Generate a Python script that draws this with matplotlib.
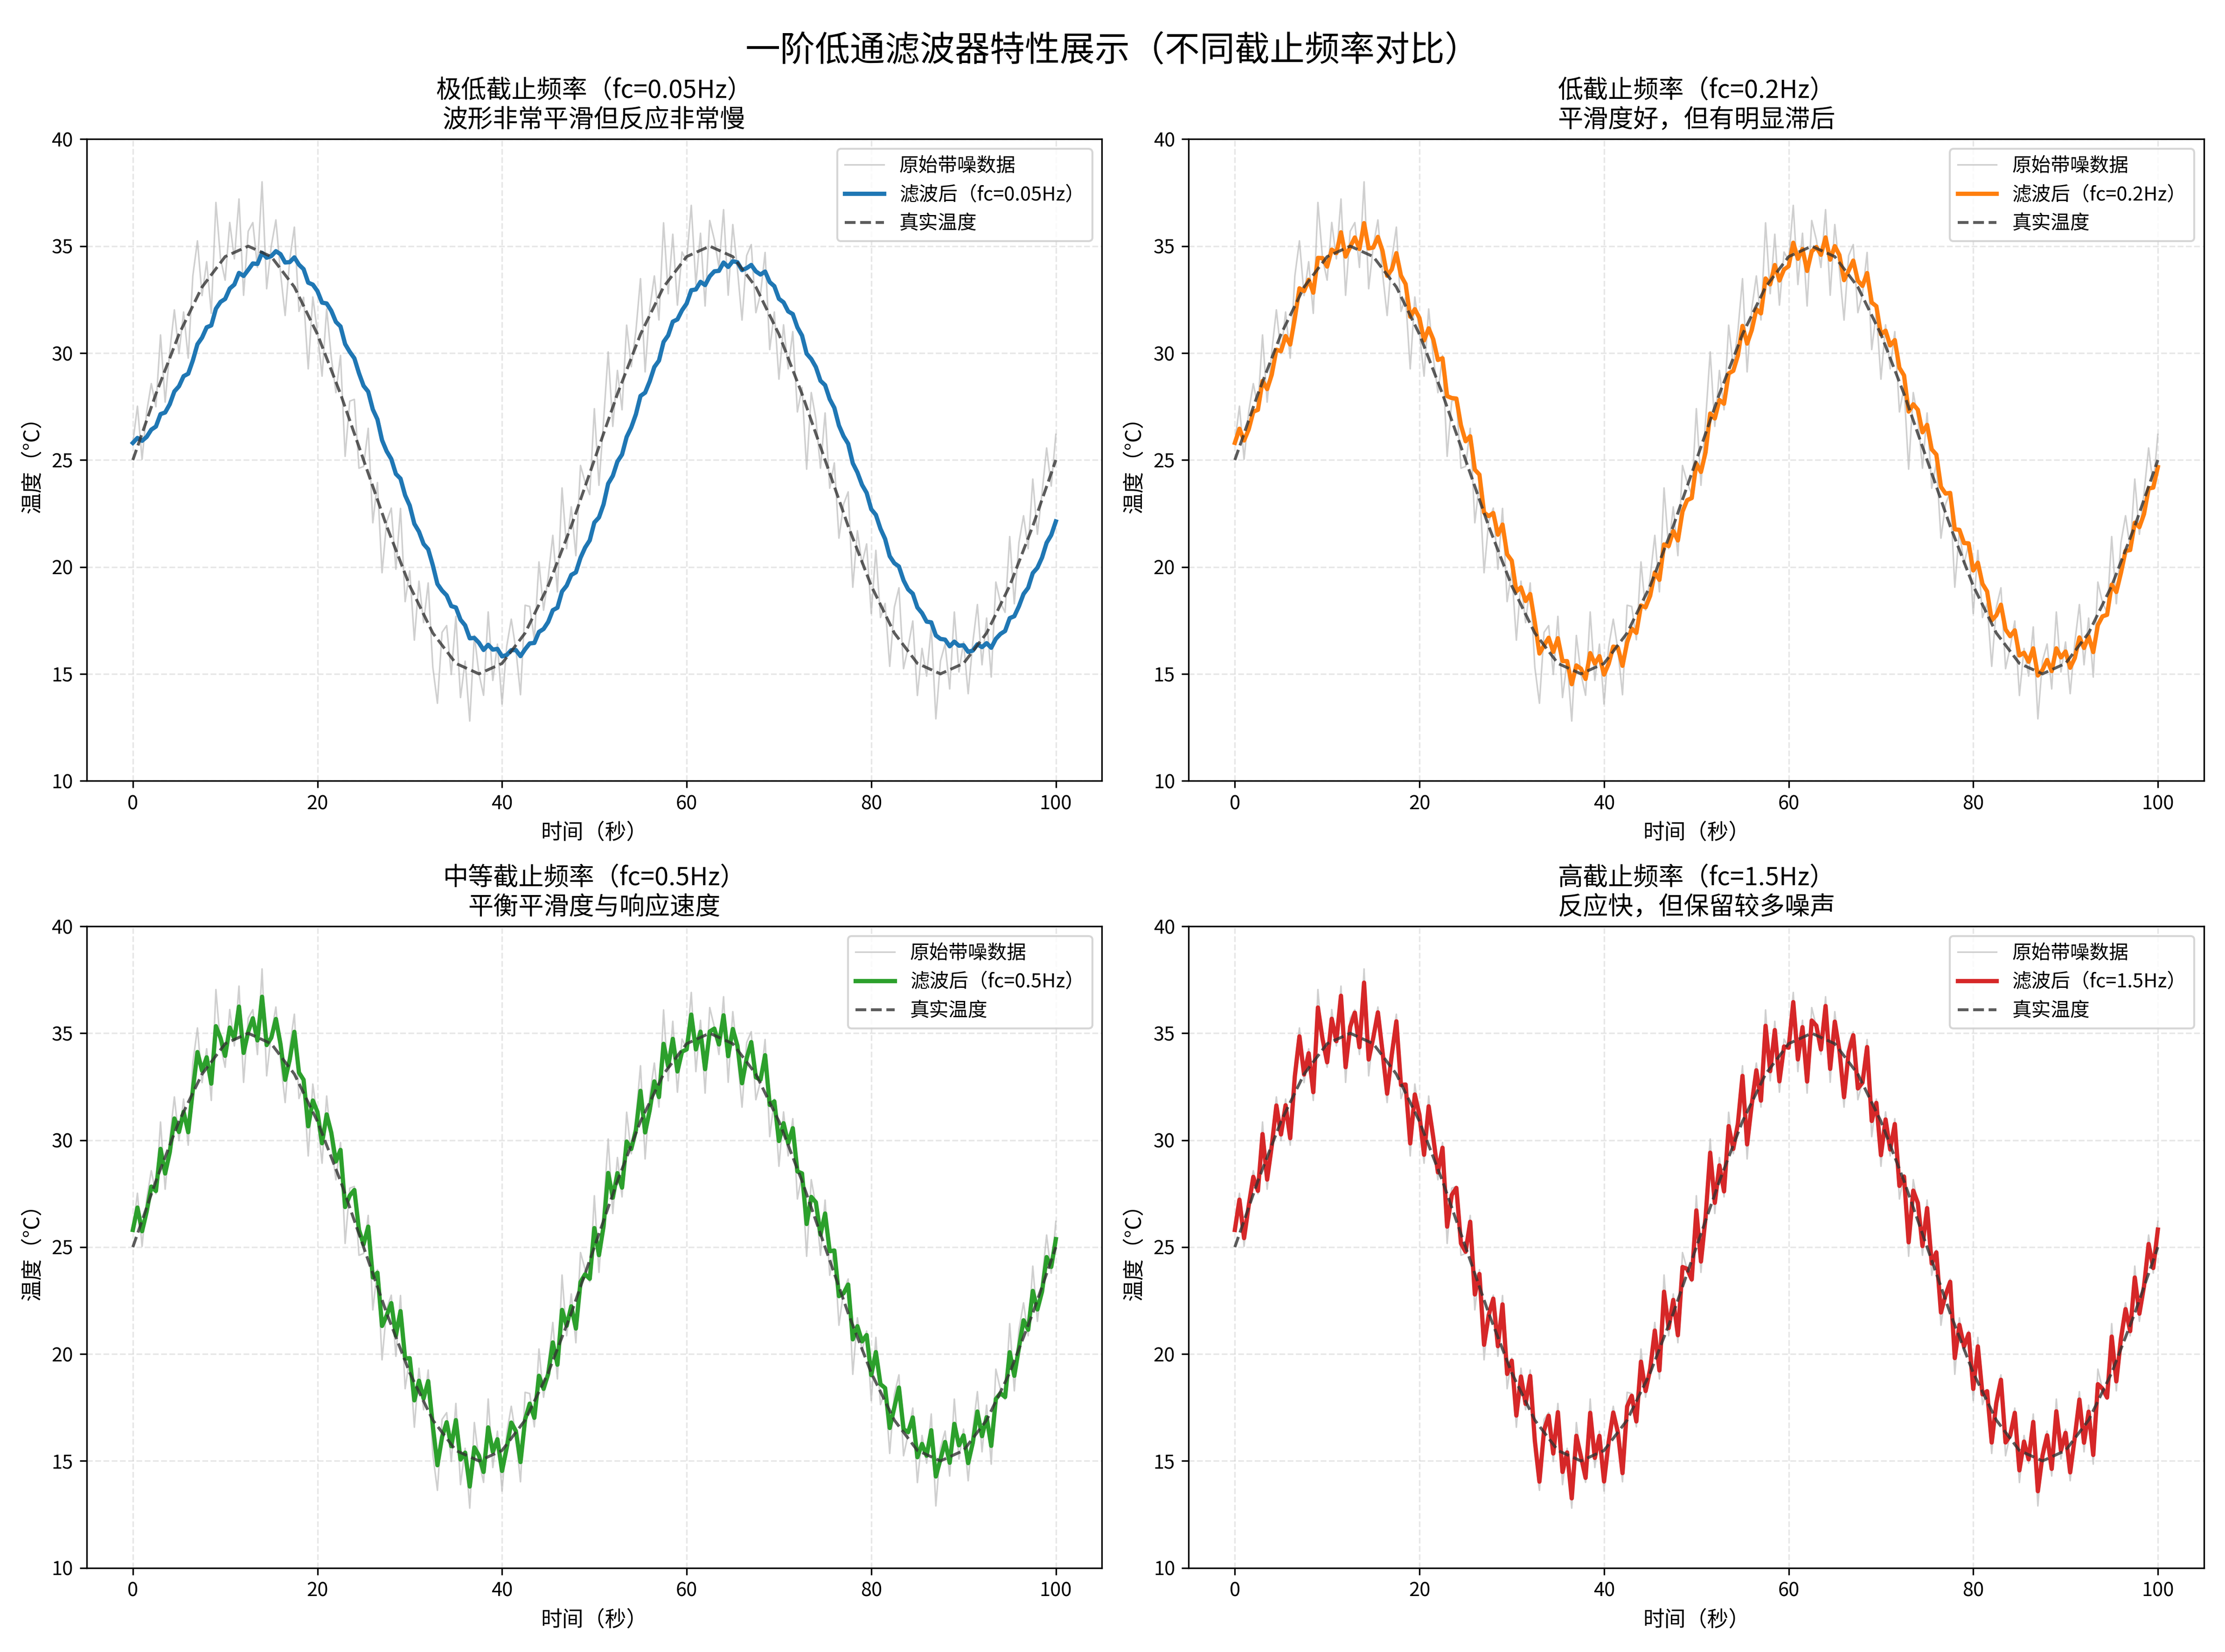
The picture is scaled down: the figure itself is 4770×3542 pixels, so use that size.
import numpy as np
import matplotlib
matplotlib.use("Agg")
import matplotlib.pyplot as plt

plt.rcParams['font.family'] = ['Noto Sans CJK SC', 'DejaVu Sans']
plt.rcParams['axes.unicode_minus'] = False

# true temperature sampled every 2.5 s
t_true = np.arange(0, 100.01, 2.5)
true_vals = [25, 28.09, 30.88, 33.09, 34.51, 35, 34.51, 33.09, 30.88, 28.09,
             25, 21.91, 19.12, 16.91, 15.49, 15, 15.49, 16.91, 19.12, 21.91,
             25, 28.09, 30.88, 33.09, 34.51, 35, 34.51, 33.09, 30.88, 28.09,
             25, 21.91, 19.12, 16.91, 15.49, 15, 15.49, 16.91, 19.12, 21.91, 25]

# noise read from raw data, every 0.5 s
t_raw = np.arange(0, 100.01, 0.5)
noise = [0.8, 1.9, -1.2, 0.4, 1.1, -0.6, 2.2, -1.5, 0.3, 1.7, -0.9, 0.6, -2.0, 1.4, 2.6, -0.4, 0.9, -1.8, 3.1, 0.2,
         -1.1, 1.5, -0.3, 2.4, -2.2, 0.7, 1.2, -0.8, 3.3, -1.6, 0.5, 2.0, -0.2, -1.9, 1.0, 2.8, -0.7, 0.4, -2.5, 1.3,
         0.1, -1.4, 2.3, 0.6, -0.5, 1.8, -2.3, 0.9, 1.6, -1.0, -0.3, 2.1, -1.7, 0.8, -2.8, 0.2, 1.4, -0.9, 2.5, -1.3,
         0.7, -2.1, 1.1, -0.4, 1.9, -1.6, -3.0, 0.6, 1.2, -0.8, 2.2, -1.5, 0.3, -2.4, 1.7, 0.0, -1.1, 2.7, -0.6, 1.0,
         -1.9, 0.5, 1.5, -0.2, -2.6, 1.3, 0.8, -1.2, 2.0, -0.7, 0.4, 1.8, -1.4, 2.9, -0.5, 0.9, -2.0, 1.6, 0.2, -1.0,
         2.4, -1.8, 0.6, 3.2, -0.9, 1.1, -1.3, 2.1, -0.4, 0.7, 2.6, -2.2, 0.3, 1.4, -1.1, 3.0, -0.6, 1.9, -1.7, 0.5,
         -0.2, 2.3, -1.5, 0.8, -2.7, 1.2, 0.4, -0.8, 2.0, -1.9, 1.5, -0.3, -2.4, 0.9, 1.7, -1.2, 0.1, 2.5, -1.6, 0.6,
         -2.1, 1.0, -0.5, 1.8, -1.4, 0.3, -2.9, 1.3, 0.7, -1.0, 2.2, -0.7, 1.1, -1.8, 0.4, 1.6, -2.3, 0.9, -0.1, 1.4,
         -1.3, 2.1, -0.6, 0.5, -2.0, 1.2, 2.4, -1.1, 0.2, 1.7, -1.5, 0.8, -0.4, 2.0, -2.2, 0.6, 1.3, -0.9, 2.6, -0.3,
         1.0, -1.7, 0.4, 1.9, -1.2, 0.7, -2.5, 1.5, 0.1, -0.8, 2.3, -1.4, 0.9, 1.6, -0.5, 2.2, -1.0, 0.3, 1.8, -0.6, 1.2]
raw = np.interp(t_raw, t_true, true_vals) + np.array(noise)

fcs = [0.05, 0.2, 0.5, 1.5]
colors = ['#1f77b4', '#ff7f0e', '#2ca02c', '#d62728']
titles = ['极低截止频率（fc=0.05Hz）\n波形非常平滑但反应非常慢',
          '低截止频率（fc=0.2Hz）\n平滑度好，但有明显滞后',
          '中等截止频率（fc=0.5Hz）\n平衡平滑度与响应速度',
          '高截止频率（fc=1.5Hz）\n反应快，但保留较多噪声']

def lowpass(x, fc, dt):
    rc = 1.0 / (2 * np.pi * fc)
    a = dt / (rc + dt)
    y = np.empty_like(x)
    y[0] = x[0]
    for i in range(1, len(x)):
        y[i] = y[i-1] + a * (x[i] - y[i-1])
    return y

fig, axes = plt.subplots(2, 2, figsize=(15.9, 11.807), dpi=300)
for ax, fc, c, title in zip(axes.flat, fcs, colors, titles):
    ax.plot(t_raw, raw, color='#b0b0b0', alpha=0.6, lw=0.8, label='原始带噪数据')
    ax.plot(t_raw, lowpass(raw, fc, 0.5), color=c, lw=2.2, label=f'滤波后（fc={fc}Hz）')
    ax.plot(t_true, true_vals, '--', color='#333333', alpha=0.8, lw=1.5, label='真实温度')
    ax.set_ylim(10, 40)
    ax.set_title(title, fontsize=13)
    ax.set_xlabel('时间（秒）', fontsize=11)
    ax.set_ylabel('温度（°C）', fontsize=11)
    ax.grid(True, linestyle='--', alpha=0.3)
    ax.legend(loc='upper right', fontsize=10)
fig.suptitle('一阶低通滤波器特性展示（不同截止频率对比）', fontsize=18)
fig.tight_layout()
fig.savefig('out.png', dpi=300)
